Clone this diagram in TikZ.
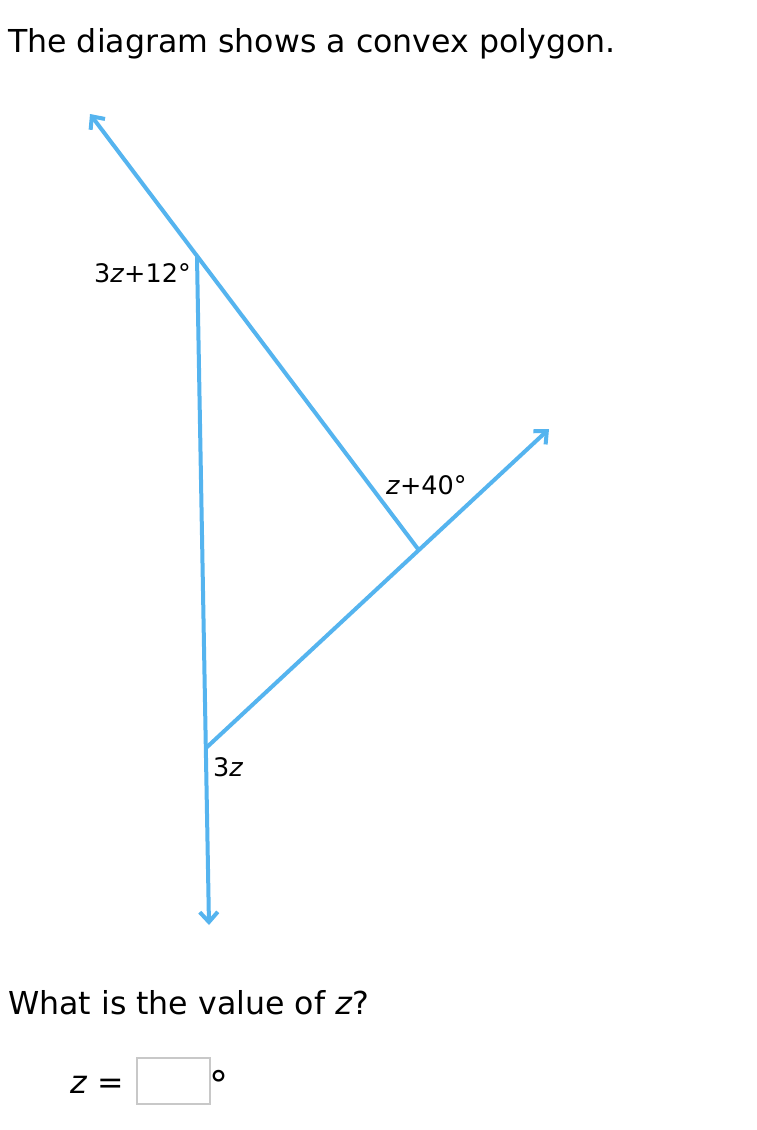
\documentclass[tikz,border=0pt]{standalone}
\usepackage{fontspec}
\setmainfont{DejaVu Sans}
\usetikzlibrary{arrows.meta}
\definecolor{lineblue}{HTML}{55B4EF}
\definecolor{boxgray}{HTML}{C8C8C8}
\tikzset{
  ray/.style={draw=lineblue, line width=4pt, line cap=round, line join=round,
    -{Straight Barb[length=10pt,width=18pt,line width=4pt]}},
  bigtxt/.style={inner sep=0pt, font=\fontsize{31.6}{38}\selectfont},
  lbl/.style={inner sep=0pt, font=\fontsize{25.5}{30}\selectfont},
}
\begin{document}
\begin{tikzpicture}[x=1pt,y=-1pt]
\useasboundingbox (0,0) rectangle (756,1130);
\fill[white] (0,0) rectangle (756,1130);
% vertices
\coordinate (A) at (197,257);
\coordinate (B) at (418,549);
\coordinate (C) at (206,748);
\coordinate (tipT) at (90,114);
\coordinate (tipR) at (549,429);
\coordinate (tipB) at (209,925);
% lines
\draw[ray] (B) -- (tipT);
\draw[ray] (C) -- (tipR);
\draw[ray] (A) -- (tipB);
% labels
\node[lbl, anchor=base east] (la) at (191,282) {3\textit{z}+12°};
\node[lbl, anchor=base west] (lb) at (386,494) {\textit{z}+40°};
\node[lbl, anchor=base west] (lc) at (213,776) {3\textit{z}};
% texts
\node[bigtxt, anchor=base west] (title) at (8,52) {The diagram shows a convex polygon.};
\node[bigtxt, anchor=base west] (q) at (8,1014) {What is the value of \textit{z}?};
\node[bigtxt, anchor=base west] (zeq) at (70,1093) {\textit{z} =};
\draw[boxgray, line width=1.6pt] (137,1058) rectangle (210,1104);
\node[inner sep=0pt, font=\fontsize{38}{44}\selectfont, anchor=base west] (deg) at (209,1098) {°};
\end{tikzpicture}
\end{document}
